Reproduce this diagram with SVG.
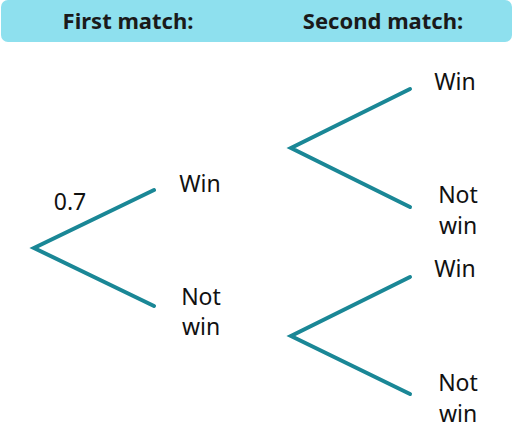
<svg xmlns="http://www.w3.org/2000/svg" width="513" height="435" viewBox="0 0 513 435">
<style>
.hdr{font-family:"Noto Sans","Open Sans",sans-serif;font-weight:bold;font-size:22px;fill:#1a1a1a}
.lbl{font-family:"Noto Sans","Open Sans",sans-serif;font-size:23px;fill:#111}
.br{fill:none;stroke:#1a8796;stroke-width:4;stroke-linecap:round;stroke-linejoin:miter}
</style>
<rect width="513" height="435" fill="#fff"/>
<g id="header">
<rect x="1" y="0" width="511" height="42" rx="7" fill="#8ee0ee"/>
<text class="hdr" x="128" y="29" text-anchor="middle">First match:</text>
<text class="hdr" x="383" y="29" text-anchor="middle">Second match:</text>
</g>
<g id="connectors">
<polyline class="br" points="154,190 34,248 154,306"/>
<polyline class="br" points="410,89 291,148 410,207"/>
<polyline class="br" points="410,277 291,336 410,394"/>
</g>
<g id="p07"><text class="lbl" x="70" y="210" text-anchor="middle">0.7</text></g>
<g id="n1win"><text class="lbl" x="200" y="192" text-anchor="middle">Win</text></g>
<g id="n1not"><text class="lbl" x="201" y="305" text-anchor="middle">Not</text><text class="lbl" x="201" y="335" text-anchor="middle">win</text></g>
<g id="n2win"><text class="lbl" x="455" y="90" text-anchor="middle">Win</text></g>
<g id="n2not"><text class="lbl" x="458" y="203" text-anchor="middle">Not</text><text class="lbl" x="458" y="234" text-anchor="middle">win</text></g>
<g id="n3win"><text class="lbl" x="455" y="277" text-anchor="middle">Win</text></g>
<g id="n3not"><text class="lbl" x="458" y="391" text-anchor="middle">Not</text><text class="lbl" x="458" y="422" text-anchor="middle">win</text></g>
</svg>
